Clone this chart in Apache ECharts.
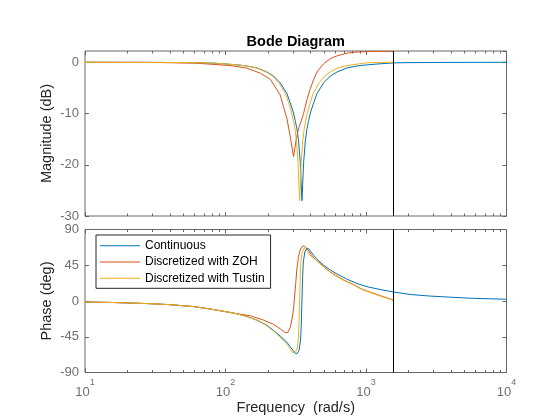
<!DOCTYPE html>
<html>
<head>
<meta charset="utf-8">
<title>Bode Diagram</title>
<script src="https://cdn.jsdelivr.net/npm/echarts@6/dist/echarts.min.js"></script>
<style>
  html, body { margin: 0; padding: 0; background: #fff; }
  #bode { width: 560px; height: 420px; }
</style>
</head>
<body>
<div id="bode"></div>
<script>
// legend names and the Nyquist frequency (pi / Ts)
var names = ['Continuous', 'Discretized with ZOH', 'Discretized with Tustin'];
var nyquistFreq = 1570.8;

// continuous model
var contMagW = [10, 13.2, 35.2, 65.6, 77.4, 97.3, 120.5, 141.9, 167.2, 197.1, 220, 245.1, 273.6, 288.9, 304.9, 313.6, 322.4, 331, 340.4, 350,
    360, 370.1, 379.9, 390.7, 401.7, 424.1, 447.7, 499.7, 556.9, 621.5, 732.5, 863, 1017, 1259, 1583, 1866, 3481, 10000];
var contMagDb = [0, -0.01, -0.03, -0.08, -0.12, -0.3, -0.5, -0.72, -1.1, -1.9, -2.7, -4.0, -6.1, -7.9, -9.9, -11.4, -13, -15.3, -19.5, -27,
    -19.5, -15.3, -13, -11.4, -9.9, -7.9, -6.1, -4.0, -2.7, -1.9, -1.1, -0.72, -0.5, -0.3, -0.12, -0.08, -0.03, 0];
var contPhW = [10, 15, 20, 29, 40, 59, 77.4, 97.3, 120.5, 141.9, 167.2, 197.1, 220, 245.1, 273.6, 288.9, 302, 312, 322.4, 333.7,
    342.1, 346, 350, 354.1, 358.1, 367, 379.9, 392.6, 405.7, 424.1, 447.7, 499.7, 556.9, 621.5, 732.5, 863, 1017, 1259, 1583, 2059,
    2859, 3969, 5694, 10000];
var contPhDeg = [-1.3, -1.8, -2.4, -3.4, -4.6, -7, -10, -13, -16, -19.5, -24, -30.5, -37, -44, -52, -57.5, -62, -65.5, -66.5, -62,
    -49, -31, 0, 31, 49, 62, 66.5, 65.5, 62, 57.5, 52.5, 45, 39, 34, 27.5, 22, 18, 14.5, 11.2, 8.2,
    6.2, 4.8, 3.4, 2.2];

// discretized with ZOH
var zohMagW = [10, 30, 61.8, 108, 142, 177, 208, 245, 259, 274, 289, 305, 318.9, 331, 340.5, 359.4, 380, 401, 423.6, 447.7,
    499, 557, 622, 733, 863, 1074, 1570.8];
var zohMagDb = [0, -0.03, -0.18, -0.64, -1.15, -2.13, -3.3, -6.37, -8.71, -11.05, -14.57, -18.42, -15, -13, -12, -10, -7.3, -5.2, -3.4, -1.9,
    -0.3, 0.7, 1.25, 1.78, 2.0, 2.12, 2.15];
var zohPhW = [10, 15, 20, 29, 40, 59, 77, 97, 120, 150, 186, 220, 245, 258, 269, 278, 285, 289, 298, 305,
    310, 316, 322, 331, 340, 350, 363, 375, 390, 405, 424, 448, 499, 557, 633, 693, 800, 911, 1000, 1100,
    1200, 1300, 1420, 1500, 1570.8];
var zohPhDeg = [-1.3, -1.8, -2.4, -3.4, -4.6, -7, -10, -13, -16, -18.5, -24, -29.5, -35, -38, -40, -39.5, -37, -33, -22, -10,
    5, 22, 40, 56, 64, 68.3, 69.5, 67.5, 63.5, 59, 54.5, 50.5, 43.5, 36.5, 30.5, 26.5, 21.5, 16, 13, 10.5,
    8, 6, 3.8, 2.5, 1];

// discretized with Tustin
var tusMagW = [10, 13.2, 35.2, 65.5, 77.2, 97.0, 119.9, 140.9, 165.7, 194.6, 216.6, 240.3, 267.1, 281.3, 296.1, 304.1, 312.1, 319.9, 328.3, 336.8,
    345.7, 354.6, 363.2, 372.6, 382.1, 401.0, 420.7, 463.5, 508.6, 556, 632, 712, 794, 900, 1007, 1079, 1291, 1406, 1570.8];
var tusMagDb = [0, -0.01, -0.03, -0.08, -0.12, -0.3, -0.5, -0.72, -1.1, -1.9, -2.7, -4.0, -6.1, -7.9, -9.9, -11.4, -13, -15.3, -19.5, -27,
    -19.5, -15.3, -13, -11.4, -9.9, -7.9, -6.1, -4.0, -2.7, -1.9, -1.1, -0.72, -0.5, -0.3, -0.12, -0.08, -0.03, -0.01, 0];
var tusPhW = [10, 15, 20, 29, 40, 59, 77.2, 97, 119.9, 140.9, 165.7, 194.6, 216.6, 240.3, 267.1, 281.3, 293.3, 302.3, 311.9, 322,
    329.5, 333, 336.8, 340.5, 344, 352, 363.2, 374.3, 385.6, 401, 424, 448, 499, 557, 633, 693, 800, 911, 1000, 1100,
    1200, 1300, 1420, 1500, 1570.8];
var tusPhDeg = [-1.3, -1.8, -2.4, -3.4, -4.6, -7, -10, -13, -16, -19.5, -24, -30.5, -37, -44, -52, -57.5, -62, -65.5, -66.5, -62,
    -49, -31, 0, 31, 49, 62, 66.5, 65.5, 62, 57.5, 54, 50, 43, 36, 30, 26, 21, 15.5, 12.5, 10,
    7.5, 5.5, 3.3, 2, 0.3];

// log axis minor tick multipliers
var minorSteps = [2, 3, 4, 5, 6, 7, 8, 9];
var decades = [10, 100, 1000];

var colors = ['#0072BD', '#D95319', '#EDB120'];
var font = '"Liberation Sans", Arial, Helvetica, sans-serif';
var axisGray = '#666666';
var labelGray = '#707070';
var textDark = '#262626';

// plot boxes (pixels)
var boxLeft = 85, boxRight = 53.5;
var magTop = 51, magHeight = 165;
var phTop = 229.5, phHeight = 143;
var boxWidth = 560 - boxLeft - boxRight;

function pairs(w, v) {
    return w.map(function (x, i) { return [x, v[i]]; });
}

function freqAxis(gridIndex, position, withLabels) {
    return {
        type: 'log',
        logBase: 10,
        gridIndex: gridIndex,
        position: position,
        min: 10,
        max: 10000,
        axisLine: { show: false, onZero: false },
        axisTick: { show: true, inside: true, length: 4, lineStyle: { color: axisGray, width: 1 } },
        splitLine: { show: false },
        axisLabel: withLabels ? {
            margin: 6,
            formatter: function (v) {
                return '{b|10}{s|' + Math.round(Math.log(v) / Math.LN10) + '}';
            },
            rich: {
                b: { fontSize: 13, fontFamily: font, color: labelGray, lineHeight: 20, verticalAlign: 'bottom' },
                s: { fontSize: 9, fontFamily: font, color: labelGray, lineHeight: 10, verticalAlign: 'top' }
            }
        } : { show: false }
    };
}

function valueAxis(gridIndex, position, min, max, step, withLabels) {
    return {
        type: 'value',
        gridIndex: gridIndex,
        position: position,
        min: min,
        max: max,
        interval: step,
        axisLine: { show: false, onZero: false },
        axisTick: { show: true, inside: true, length: 4, lineStyle: { color: axisGray, width: 1 } },
        splitLine: { show: false },
        axisLabel: withLabels ? {
            margin: 6,
            color: labelGray,
            fontSize: 13,
            fontFamily: font,
            showMaxLabel: step === 10 ? false : null,
            formatter: function (v) {
                return (v % step === 0) ? String(v) : '';
            }
        } : { show: false }
    };
}

function curve(idx, w, v, xi, yi) {
    return {
        name: names[idx],
        type: 'line',
        xAxisIndex: xi,
        yAxisIndex: yi,
        data: pairs(w, v),
        symbol: 'none',
        showSymbol: false,
        lineStyle: { color: colors[idx], width: 1 },
        itemStyle: { color: colors[idx] },
        animation: false
    };
}

var nyquistLine = {
    silent: true,
    symbol: ['none', 'none'],
    label: { show: false },
    lineStyle: { color: '#000', width: 1, type: 'solid' },
    animation: false,
    data: [{ xAxis: nyquistFreq }]
};

var magCont = curve(0, contMagW, contMagDb, 0, 0);
magCont.markLine = nyquistLine;
var phCont = curve(0, contPhW, contPhDeg, 2, 2);
phCont.markLine = nyquistLine;

// titles and minor ticks of the log axes
var magBottom = magTop + magHeight;
var phBottom = phTop + phHeight;
var centerX = boxLeft + boxWidth / 2;

var graphics = [
    {
        type: 'text', x: centerX, y: 42,
        style: { text: 'Bode Diagram', font: 'bold 14.5px ' + font, fill: '#000',
            textAlign: 'center', textVerticalAlign: 'middle', align: 'center', verticalAlign: 'middle' }
    },
    {
        type: 'text', x: centerX, y: 408,
        style: { text: 'Frequency  (rad/s)', font: '14.5px ' + font, fill: textDark,
            textAlign: 'center', textVerticalAlign: 'middle', align: 'center', verticalAlign: 'middle' }
    },
    {
        type: 'text', x: 47, y: magTop + magHeight / 2, rotation: Math.PI / 2,
        style: { text: 'Magnitude (dB)', font: '14.5px ' + font, fill: textDark,
            textAlign: 'center', textVerticalAlign: 'middle', align: 'center', verticalAlign: 'middle' }
    },
    {
        type: 'text', x: 47, y: phTop + phHeight / 2, rotation: Math.PI / 2,
        style: { text: 'Phase (deg)', font: '14.5px ' + font, fill: textDark,
            textAlign: 'center', textVerticalAlign: 'middle', align: 'center', verticalAlign: 'middle' }
    }
];

// minor tick positions follow the same log10 mapping as the frequency axis (10 .. 10^4)
var minorLen = 2.5;
decades.forEach(function (decade) {
    minorSteps.forEach(function (k) {
        var px = Math.round(boxLeft + (Math.log(decade * k) / Math.LN10 - 1) / 3 * boxWidth) + 0.5;
        [[magTop, 1], [magBottom, -1], [phTop, 1], [phBottom, -1]].forEach(function (edge) {
            graphics.push({
                type: 'line',
                silent: true,
                z: 10,
                shape: { x1: px, y1: edge[0], x2: px, y2: edge[0] + edge[1] * minorLen },
                style: { stroke: axisGray, lineWidth: 1 }
            });
        });
    });
});

var chart = echarts.init(document.getElementById('bode'), null, { renderer: 'canvas' });

chart.setOption({
    animation: false,
    backgroundColor: '#fff',
    textStyle: { fontFamily: font },
    grid: [
        { left: boxLeft, right: boxRight, top: magTop, height: magHeight, show: true, borderColor: axisGray, borderWidth: 1, backgroundColor: 'transparent' },
        { left: boxLeft, right: boxRight, top: phTop, height: phHeight, show: true, borderColor: axisGray, borderWidth: 1, backgroundColor: 'transparent' }
    ],
    xAxis: [
        freqAxis(0, 'bottom', false),
        freqAxis(0, 'top', false),
        freqAxis(1, 'bottom', true),
        freqAxis(1, 'top', false)
    ],
    yAxis: [
        valueAxis(0, 'left', -30, 2.2, 10, true),
        valueAxis(0, 'right', -30, 2.2, 10, false),
        valueAxis(1, 'left', -90, 90, 45, true),
        valueAxis(1, 'right', -90, 90, 45, false)
    ],
    legend: {
        data: names,
        orient: 'vertical',
        left: 96,
        top: 235,
        icon: 'rect',
        itemWidth: 40,
        itemHeight: 1,
        itemGap: 4.3,
        padding: [4.7, 6, 4, 4],
        borderColor: textDark,
        borderWidth: 1,
        backgroundColor: '#fff',
        selectedMode: false,
        itemStyle: { borderWidth: 0 },
        textStyle: { fontSize: 12, color: '#000', fontFamily: font }
    },
    graphic: { elements: graphics },
    series: [
        magCont,
        curve(1, zohMagW, zohMagDb, 0, 0),
        curve(2, tusMagW, tusMagDb, 0, 0),
        phCont,
        curve(1, zohPhW, zohPhDeg, 2, 2),
        curve(2, tusPhW, tusPhDeg, 2, 2)
    ]
});
</script>
</body>
</html>
